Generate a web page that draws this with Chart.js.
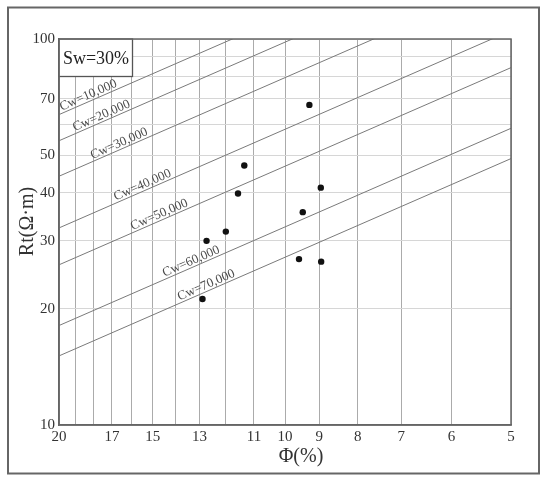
<!DOCTYPE html>
<html>
<head>
<meta charset="utf-8">
<script src="https://cdn.jsdelivr.net/npm/chart.js@4"></script>
<style>
  html, body { margin: 0; padding: 0; background: #fff; }
  canvas { display: block; }
</style>
</head>
<body>
<canvas id="chart" width="550" height="481"></canvas>
<script>
// axis ticks (gridlines) and which of them carry a label
const phiTicks = [20, 19, 18, 17, 16, 15, 14, 13, 12, 11, 10, 9, 8, 7, 6, 5];
const phiLabels = [20, 17, 15, 13, 11, 10, 9, 8, 7, 6, 5];
const rtTicks = [10, 20, 30, 40, 50, 60, 70, 80, 90, 100];
const rtLabels = [10, 20, 30, 40, 50, 70, 100];

// Cw lines, read at phi = 20 and phi = 5
const cwNames = ['Cw=10,000', 'Cw=20,000', 'Cw=30,000', 'Cw=40,000', 'Cw=50,000', 'Cw=60,000', 'Cw=70,000'];
const cwRtAt20 = [63.7, 54.5, 44.1, 32.4, 26.0, 18.1, 15.1];
const cwRtAt5 = [206.6, 176.7, 143.0, 105.1, 84.3, 58.7, 49.0];
const cwLabelPhi = [18.15, 17.43, 16.51, 15.37, 14.6, 13.24, 12.64];

// measured samples
const samplePhi = [11.33, 11.55, 11.99, 12.72, 12.88, 9.28, 8.96, 9.47, 9.58, 8.95];
const sampleRt = [47.0, 39.8, 31.7, 30.0, 21.2, 67.5, 41.2, 35.6, 26.9, 26.5];

const serif = "'Liberation Serif', 'Times New Roman', serif";

const datasets = cwNames.map((name, i) => ({
	label: name,
	data: [{x: 20, y: cwRtAt20[i]}, {x: 5, y: cwRtAt5[i]}],
	showLine: true,
	borderColor: '#7a7a7a',
	borderWidth: 1,
	pointRadius: 0,
}));

datasets.push({
	label: 'samples',
	data: samplePhi.map((p, i) => ({x: p, y: sampleRt[i]})),
	showLine: false,
	backgroundColor: '#111',
	borderColor: '#111',
	pointRadius: 3.2,
	borderWidth: 0,
});

const extras = {
	id: 'extras',
	beforeDraw(chart) {
		const ctx = chart.ctx;
		ctx.save();
		ctx.fillStyle = '#fff';
		ctx.fillRect(0, 0, chart.width, chart.height);
		ctx.restore();
	},
	afterDatasetsDraw(chart) {
		const ctx = chart.ctx;
		const xs = chart.scales.x, ys = chart.scales.y;
		const area = chart.chartArea;

		// labels along the Cw lines
		ctx.save();
		ctx.font = '13px ' + serif;
		ctx.fillStyle = '#4a4a4a';
		ctx.textAlign = 'center';
		ctx.textBaseline = 'alphabetic';
		cwNames.forEach((name, i) => {
			const x0 = xs.getPixelForValue(20), y0 = ys.getPixelForValue(cwRtAt20[i]);
			const x1 = xs.getPixelForValue(5), y1 = ys.getPixelForValue(cwRtAt5[i]);
			const x = xs.getPixelForValue(cwLabelPhi[i]);
			const y = y0 + (x - x0) / (x1 - x0) * (y1 - y0);
			ctx.save();
			ctx.translate(x, y);
			ctx.rotate(Math.atan2(y1 - y0, x1 - x0));
			ctx.fillText(name, 0, -2.5);
			ctx.restore();
		});
		ctx.restore();

		// Sw box
		ctx.save();
		ctx.fillStyle = '#fff';
		ctx.strokeStyle = '#555';
		ctx.lineWidth = 1.3;
		ctx.fillRect(area.left, area.top, 73.5, 37.5);
		ctx.strokeRect(area.left, area.top, 73.5, 37.5);
		ctx.fillStyle = '#222';
		ctx.font = '18px ' + serif;
		ctx.textAlign = 'center';
		ctx.textBaseline = 'alphabetic';
		ctx.fillText('Sw=30%', area.left + 37, area.top + 24.5);
		ctx.restore();

		// frame round the plot
		ctx.save();
		ctx.strokeStyle = '#666';
		ctx.lineWidth = 1.5;
		ctx.strokeRect(area.left, area.top, area.right - area.left, area.bottom - area.top);
		ctx.restore();
	},
	afterDraw(chart) {
		const ctx = chart.ctx;
		ctx.save();
		// outer frame
		ctx.strokeStyle = '#666';
		ctx.lineWidth = 2;
		ctx.strokeRect(8, 7.5, 531, 466);

		ctx.fillStyle = '#333';
		ctx.font = '20px ' + serif;
		ctx.textAlign = 'center';
		ctx.textBaseline = 'alphabetic';
		ctx.fillText('\u03A6(%)', 301, 462);

		ctx.translate(33, 221.5);
		ctx.rotate(-Math.PI / 2);
		ctx.fillText('Rt(\u03A9\u00B7m)', 0, 0);
		ctx.restore();
	}
};

const config = {
	type: 'scatter',
	data: { datasets: datasets },
	options: {
		responsive: false,
		animation: false,
		devicePixelRatio: 1,
		layout: {
			padding: { top: 39, right: 39, left: 0, bottom: 0 },
		},
		plugins: {
			legend: { display: false },
			tooltip: { enabled: false },
		},
		scales: {
			x: {
				type: 'logarithmic',
				reverse: true,
				min: 5,
				max: 20,
				afterBuildTicks: (scale) => {
					scale.ticks = phiTicks.map(v => ({value: v}));
				},
				afterFit: (scale) => { scale.height = 56; },
				grid: {
					color: '#ababab',
					lineWidth: 1,
					drawTicks: false,
				},
				border: { display: true, color: '#666', width: 1.5 },
				ticks: {
					autoSkip: false,
					maxRotation: 0,
					padding: 3,
					color: '#333',
					font: { family: serif, size: 15 },
					callback: (v) => phiLabels.includes(v) ? String(v) : '',
				},
			},
			y: {
				type: 'logarithmic',
				min: 10,
				max: 100,
				afterBuildTicks: (scale) => {
					scale.ticks = rtTicks.map(v => ({value: v}));
				},
				afterFit: (scale) => { scale.width = 59; },
				grid: {
					color: '#d6d6d6',
					lineWidth: 1,
					drawTicks: false,
				},
				border: { display: true, color: '#666', width: 1.5 },
				ticks: {
					autoSkip: false,
					padding: 4,
					color: '#333',
					font: { family: serif, size: 15 },
					callback: (v) => rtLabels.includes(v) ? String(v) : '',
				},
			},
		},
	},
	plugins: [extras],
};

const chartCtx = document.getElementById('chart');
const rtPlot = new Chart(chartCtx, config);
</script>
</body>
</html>
